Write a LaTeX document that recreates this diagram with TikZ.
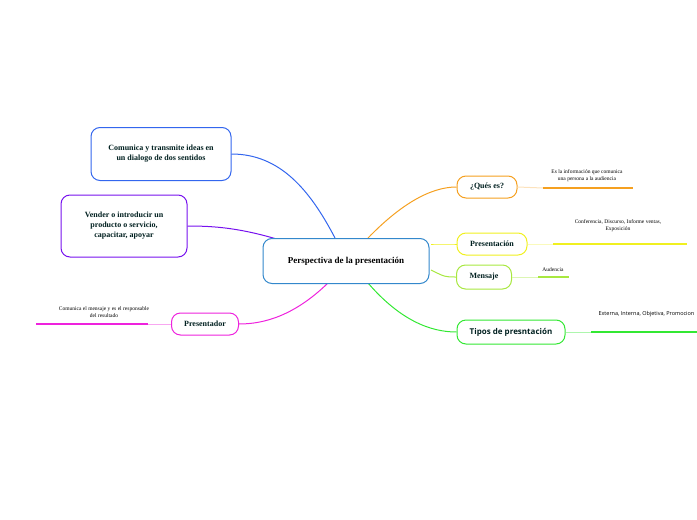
\documentclass[tikz,border=0pt]{standalone}
\usepackage{fontspec}
\setmainfont{Liberation Serif}
\newfontfamily\sansf{Open Sans}
\definecolor{colb}{HTML}{3366EE}
\definecolor{colp}{HTML}{7711EE}
\definecolor{colm}{HTML}{EE22DD}
\definecolor{colo}{HTML}{F5A020}
\definecolor{coly}{HTML}{F0F020}
\definecolor{coll}{HTML}{A8E840}
\definecolor{colg}{HTML}{33E833}
\definecolor{colc}{HTML}{3388CC}
\begin{document}
\begin{tikzpicture}[x=1pt,y=-1pt,
 box/.style={draw=#1,rounded corners=9pt,line width=1pt,fill=white,align=center,text=black!75!teal,font=\bfseries\fontsize{8}{10}\selectfont,inner sep=0pt},
 conn/.style={draw=#1,line width=1pt},
 small/.style={font=\fontsize{5.5}{7}\selectfont,align=center}]
\useasboundingbox (0,0) rectangle (697,520);
\clip (0,0) rectangle (697,520);
\coordinate (c1) at (335,238); \coordinate (c2) at (280,240); \coordinate (c3) at (328,283);
\coordinate (c4) at (368,238); \coordinate (c5) at (431,244); \coordinate (c6) at (431,270); \coordinate (c7) at (368,283);
\node[box=colb,minimum width=140pt,minimum height=53pt] (n1) at (161,154) {Comunica y transmite ideas en\\un dialogo de dos sentidos};
\node[box=colp,minimum width=126pt,minimum height=62pt] (n2) at (124,226) {Vender o introducir un\\producto o servicio,\\capacitar, apoyar};
\node[box=colm,minimum width=67pt,minimum height=22pt] (n3) at (205,324) {Presentador};
\node[box=colo,minimum width=60pt,minimum height=22pt] (n4) at (487,187) {¿Qués es?};
\node[box=coly,minimum width=70pt,minimum height=22pt] (n5) at (492,244) {Presentación};
\node[box=coll,minimum width=55pt,minimum height=24pt] (n6) at (484,277) {Mensaje};
\node[box=colg,minimum width=108pt,minimum height=24pt,font=\sansf\bfseries\fontsize{8}{10}\selectfont] (n7) at (511,332) {Tipos de presntación};
\draw[conn=colb] (c1) .. controls (310,190) and (280,154) .. (n1.east);
\draw[conn=colp] (c2) .. controls (240,228) and (215,226) .. (n2.east);
\draw[conn=colm] (c3) .. controls (295,315) and (265,324) .. (n3.east);
\draw[conn=colo] (c4) .. controls (400,205) and (430,187) .. (n4.west);
\draw[conn=coly] (c5) .. controls (445,244) .. (n5.west);
\draw[conn=coll] (c6) .. controls (445,277) .. (n6.west);
\draw[conn=colg] (c7) .. controls (400,320) and (430,332) .. (n7.west);
\node[box=colc,minimum width=166pt,minimum height=45pt,font=\bfseries\fontsize{9}{11}\selectfont,text=black] (c) at (346,261) {Perspectiva de la presentación};
\coordinate (e3) at (36,324); \coordinate (m3) at (148,324);
\draw[draw=colm!40,line width=1pt] (n3.west) -- (m3); \draw[draw=colm,line width=2pt] (m3) -- (e3);
\node[small] (t3) at (104,312) {Comunica el mensaje y es el responsable\\del resultado};
\coordinate (e4) at (633,188); \coordinate (m4) at (543,188);
\draw[draw=colo!30,line width=1pt] (n4.east) -- (m4); \draw[draw=colo,line width=1.5pt] (m4) -- (e4);
\node[small] (t4) at (587,176) {Es la información que comunica\\una persona a la audiencia};
\coordinate (e5) at (687,244); \coordinate (m5) at (553,244);
\draw[draw=coly!30,line width=1pt] (n5.east) -- (m5); \draw[draw=coly,line width=1.5pt] (m5) -- (e5);
\node[small] (t5) at (618,226) {Conferencia, Discurso, Informe ventas,\\Exposición};
\coordinate (e6) at (569,277); \coordinate (m6) at (538,277);
\draw[draw=coll!40,line width=1pt] (n6.east) -- (m6); \draw[draw=coll,line width=1.5pt] (m6) -- (e6);
\node[small] (t6) at (553,270) {Audencia};
\coordinate (e7) at (697,332); \coordinate (m7) at (591,332);
\draw[draw=colg!40,line width=1pt] (n7.east) -- (m7); \draw[draw=colg,line width=2pt] (m7) -- (e7);
\node[small,font=\sansf\fontsize{5.5}{7}\selectfont,anchor=west] (t7) at (595,314) {Externa, Interna, Objetiva, Promocion};
\end{tikzpicture}
\end{document}
